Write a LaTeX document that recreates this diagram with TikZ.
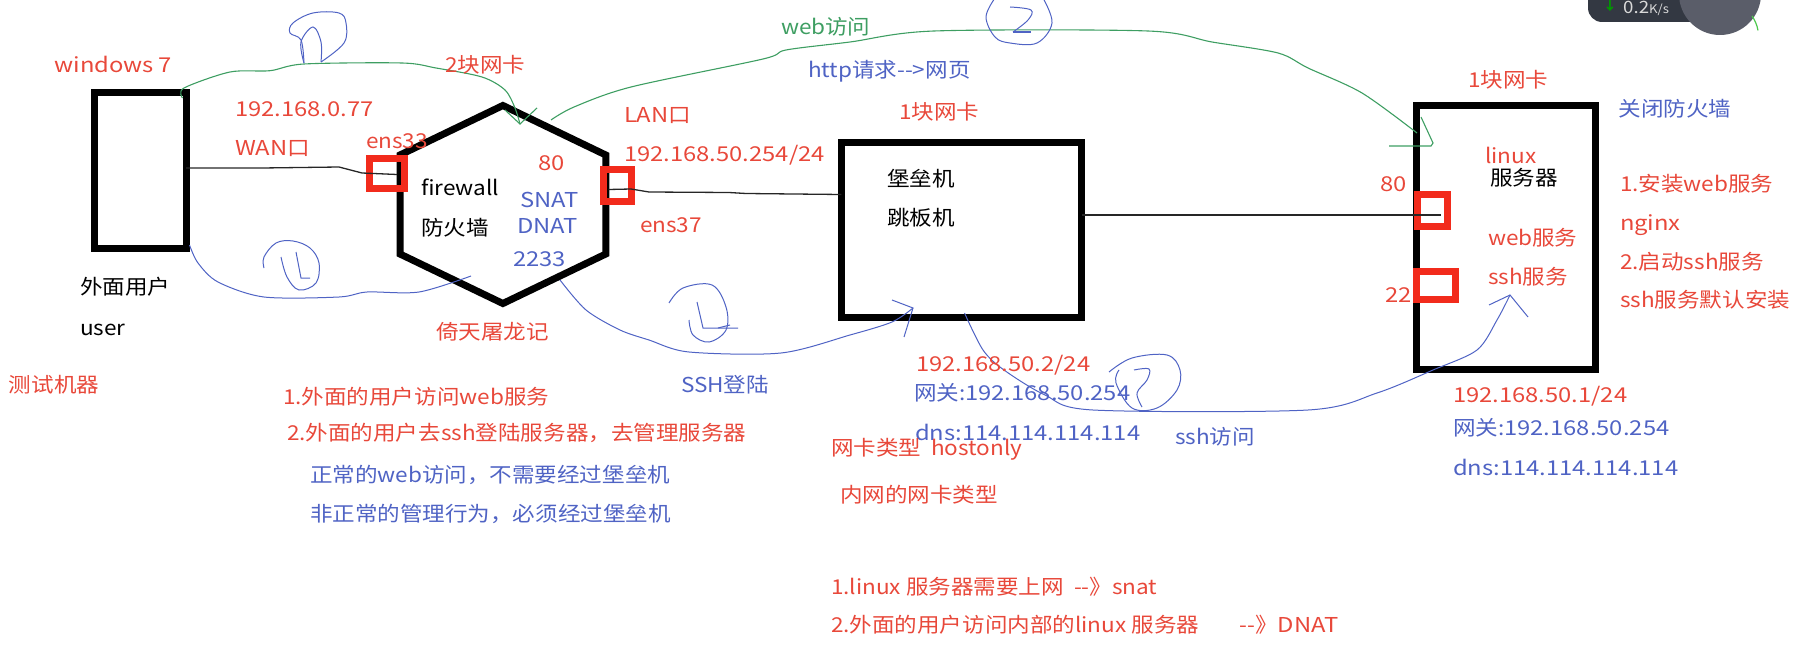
\documentclass[tikz,border=0pt]{standalone}
\usepackage{fontspec}
\setmainfont[FakeStretch=1.1]{Noto Sans CJK SC}
\newfontfamily\latfont[FakeStretch=1.16]{Noto Sans CJK SC}
\usepackage{tikz}
\usetikzlibrary{positioning, shapes, arrows.meta, calc}

\definecolor{notered}{HTML}{E8483A}
\definecolor{noteblue}{HTML}{4F63C4}
\definecolor{notegreen}{HTML}{3E9E62}
\definecolor{portred}{HTML}{F22B1C}
\definecolor{widgetdark}{HTML}{333842}
\definecolor{widgetgrey}{HTML}{5A5D69}

\tikzset{
  label base/.style={inner sep=0pt, outer sep=0pt, anchor=west, text height=19pt, text depth=4pt, font=\fontsize{20.5}{24}\selectfont},
  rednote/.style={label base, text=notered},
  bluenote/.style={label base, text=noteblue},
  greennote/.style={label base, text=notegreen},
  blacknote/.style={label base, text=black},
  latin/.style={font=\fontsize{20.5}{24}\selectfont\latfont},
  under/.style={below=#1, anchor=west},
  hostbox/.style={draw, line width=7pt, rectangle, inner sep=0pt, outer sep=0pt},
  portbox/.style={draw=portred, line width=7pt, rectangle, inner sep=0pt, outer sep=0pt},
  wire/.style={line width=1.3pt, draw=black!85},
  greenpen/.style={line width=1.1pt, draw=notegreen},
  bluepen/.style={line width=1pt, draw=noteblue}
}

\begin{document}
\begin{tikzpicture}[x=1pt, y=-1pt]
  \useasboundingbox (0,0) rectangle (1795,655);
  \clip (0,0) rectangle (1795,655);

  \fill[widgetdark, rounded corners=14pt] (1588,-30) rectangle (1710,22);
  \fill[widgetgrey] (1720,-6) circle (41pt);
  \draw[line width=1.2pt, draw=green!70!black!70] (1752,16) arc (35:10:36pt);
  \node[inner sep=0pt, text=green!60!black, font=\fontsize{13}{15}\selectfont\bfseries] (rate arrow) at (1610,6) {↓};
  \node[inner sep=0pt, anchor=west, text=white!85!black, font=\fontsize{17}{19}\selectfont] (rate) at (1623,8) {0.2\fontsize{12}{14}\selectfont K/s};

  \node[hostbox, minimum width=91.5pt, minimum height=156pt] (user) at (140.25,170.5) {};
  \node[draw, line width=7pt, regular polygon, regular polygon sides=6, shape border rotate=30, minimum size=198pt, xscale=1.2, inner sep=0pt, outer sep=0pt] (fw) [right=214pt of user, yshift=-34pt] {};
  \node[hostbox, minimum width=240.5pt, minimum height=174pt] (jump) [right=235.5pt of fw, yshift=-25.5pt] {};
  \node[hostbox, minimum width=178.5pt, minimum height=264pt] (server) [right=335pt of jump, yshift=-7.5pt] {};

  \node[portbox, minimum width=35.5pt, minimum height=29.5pt, xshift=-13.25pt, yshift=30.75pt] (wanport) at (fw.west) {};
  \node[portbox, minimum width=28.5pt, minimum height=31.5pt, xshift=11.75pt, yshift=18.75pt] (lanport) at (fw.east) {};
  \node[portbox, minimum width=29.5pt, minimum height=31.5pt, xshift=15.75pt, yshift=27.25pt] (webport) at (server.west) {};
  \node[portbox, minimum width=39pt, minimum height=28pt, xshift=19.5pt, yshift=-47.5pt] (sshport) at (server.west) {};

  \coordinate (wanend) at (397,174.5);
  \coordinate (lanstart) at (608.5,189.5);
  \coordinate (webend) at (1441,215);
  \draw[wire] (user.east |- 0,168) -- (262,168) -- (339,167) -- (362,173) -- (wanend);
  \draw[wire] (lanstart) -- (631,189) -- (649,192) -- (729,192.5) -- (746,193.5) -- (jump.west |- 0,194.5);
  \draw[wire] (jump.east |- webend) -- (webend);

  \coordinate (fwin) at (520,124);
  \coordinate (fwout) at (551,120);
  \coordinate (srvin) at (1433,143);
  \draw[greenpen] plot[smooth, tension=0.5] coordinates {(182.5,98) (184,88) (230,72) (270,70.7) (304,64) (402,63) (436,68) (482,77) (505,90) (515,108) (fwin)};
  \draw[greenpen] (505,110) -- (fwin) -- (537,108);
  \draw[greenpen] plot[smooth, tension=0.5] coordinates {(fwout) (574,107) (631,87) (763,59) (786,50) (850,42) (934,31) (1148,31) (1212,42) (1278,53) (1308,68) (1362,93) (1417,133)};
  \draw[greenpen] (1389,146) -- (1431,146) -- (srvin) -- (1421,117);

  \coordinate (fwssh) at (560,280);
  \coordinate (jumpin) at (913,308);
  \coordinate (srvssh) at (1510,295);
  \draw[bluepen] plot[smooth, tension=0.5] coordinates {(189.5,245) (198,263) (218,282) (264,297) (339,297) (367,292) (419,292) (471,276)};
  \draw[bluepen] plot[smooth, tension=0.5] coordinates {(fwssh) (586,310) (620,330) (649,340) (689,352) (781,353) (850,335) (892,322) (jumpin)};
  \draw[bluepen] (892,300) -- (jumpin) -- (904,337);
  \draw[bluepen] plot[smooth, tension=0.5] coordinates {(964.5,313) (983,350) (1004,370) (1045,395) (1093,410) (1308,410) (1377,393) (1433,370) (1477,350) (1497,320) (srvssh)};
  \draw[bluepen] (1489,305) -- (srvssh) -- (1528,317);

  \draw[bluepen] plot[smooth, tension=0.6] coordinates {(304,63) (301,40) (290,33) (293,23) (313,13) (339,13) (346,23) (344,43) (321,62)};
  \draw[bluepen] plot[smooth, tension=0.6] coordinates {(304,63) (301,42) (313,27) (321,42) (321,62)};
  \draw[bluepen] plot[smooth, tension=0.6] coordinates {(264,268) (264,257) (276,243) (293,241) (310,248) (319,263) (316,283) (299,290) (287,277) (281,257)};
  \draw[bluepen] (296,252) -- (301,278) -- (310,278);
  \draw[bluepen] plot[smooth, tension=0.6] coordinates {(995,-2) (986,17) (995,37) (1010,43) (1037,43) (1052,23) (1043,-2)};
  \draw[bluepen] plot[smooth, tension=0.6] coordinates {(1010,7) (1031,10) (1028,20) (1013,32)};
  \draw[bluepen, line width=1.6pt] (1013,32) -- (1031,32);
  \draw[bluepen] plot[smooth, tension=0.6] coordinates {(669,303) (683,288) (712,285) (726,307) (726,330) (709,342) (693,335) (689,320)};
  \draw[bluepen] (697,302) -- (703,328) -- (738,328);
  \draw[bluepen] (718,328) -- (730,325);
  \draw[bluepen] plot[smooth, tension=0.6] coordinates {(1109,372) (1132,358) (1167,355) (1180,370) (1177,390) (1157,408) (1132,408) (1116,383) (1119,370)};
  \draw[bluepen] plot[smooth, tension=0.6] coordinates {(1134,370) (1149,369) (1147,380) (1137,393) (1142,407)};

  \node[rednote, latin] (win) at (54.5,65) {windows\hspace{0.25em}7};
  \node[rednote, latin] (wanip) at (235,109) {192.168.0.77};
  \node[rednote] (wan) [under=39pt of wanip.west] {{\latfont WAN}口};
  \node[rednote] (ens33) at (366,141) {ens33};
  \node[rednote] (fwcards) at (445,65) {2块网卡};
  \node[greennote] (webvisit) at (781,27) {web访问};
  \node[bluenote] (httpreq) [under=43pt of webvisit.west, xshift=27pt] {http请求-{}->网页};
  \node[rednote] (lan) at (624,115) {{\latfont LAN}口};
  \node[rednote, latin] (lanip) [under=39pt of lan.west] {192.168.50.254/24};
  \node[rednote] (ens37) at (640,225) {ens37};
  \node[rednote, latin] (fwweb) at (538,163) {80};
  \node[blacknote] (fwname) at (421,188) {firewall};
  \node[blacknote] (fwcn) [under=40pt of fwname.west] {防火墙};
  \node[bluenote, latin] (snat) at (520,200) {SNAT};
  \node[bluenote, latin] (dnat) [under=26pt of snat.west, xshift=-3pt] {DNAT};
  \node[bluenote, latin] (fwssh port) [under=33pt of dnat.west, xshift=-4pt] {2233};
  \node[rednote] (fwbook) at (436,332) {倚天屠龙记};
  \node[blacknote] (usercn) at (80,287) {外面用户};
  \node[blacknote] (username) [under=41pt of usercn.west] {user};
  \node[rednote] (testbox) at (9,385) {测试机器};
  \node[bluenote] (sshlogin) at (681,385) {SSH登陆};

  \node[rednote] (goal a) at (283,397) {1.外面的用户访问web服务};
  \node[rednote] (goal b) [under=36pt of goal a.west, xshift=4pt] {2.外面的用户去ssh登陆服务器，去管理服务器};
  \node[bluenote] (rule a) [under=42pt of goal b.west, xshift=23pt] {正常的web访问，不需要经过堡垒机};
  \node[bluenote] (rule b) [under=39pt of rule a.west] {非正常的管理行为，必须经过堡垒机};

  \node[rednote] (jumpcards) at (899,112) {1块网卡};
  \node[blacknote] (jumpa) at (887,179) {堡垒机};
  \node[blacknote] (jumpb) [under=39pt of jumpa.west] {跳板机};
  \node[rednote, latin] (jumpip) at (916,364) {192.168.50.2/24};
  \node[bluenote] (jumpgw) [under=29pt of jumpip.west, xshift=-2pt] {网关:{\latfont 192.168.50.254}};
  \node[bluenote, latin] (jumpdns) [under=40pt of jumpgw.west, xshift=1pt] {dns:114.114.114.114};
  \node[rednote] (cardtype) at (831,448) {网卡类型~~hostonly};
  \node[rednote] (cardlan) [under=47pt of cardtype.west, xshift=9pt] {内网的网卡类型};
  \node[bluenote] (sshvisit) at (1175,437) {ssh访问};
  \node[rednote] (nat a) at (831,587) {1.linux 服务器需要上网~~-{}-》snat};
  \node[rednote] (nat b) [under=38pt of nat a.west] {2.外面的用户访问内部的linux 服务器~~~~~~~~-{}-》{\latfont DNAT}};

  \node[rednote] (srvcards) at (1468,80) {1块网卡};
  \node[bluenote] (srvoff) at (1618.5,109) {关闭防火墙};
  \node[rednote] (srvos) at (1485,156) {linux};
  \node[blacknote] (srvname) at (1490,178) {服务器};
  \node[rednote] (srvweb) at (1488,238) {web服务};
  \node[rednote] (srvssh label) [under=39pt of srvweb.west] {ssh服务};
  \node[rednote, latin] (port80) at (1380,184) {80};
  \node[rednote, latin] (port22) at (1385,295) {22};
  \node[rednote] (step a) at (1620,184) {1.安装web服务};
  \node[rednote, latin] (step b) [under=39pt of step a.west] {nginx};
  \node[rednote] (step c) [under=39pt of step b.west] {2.启动ssh服务};
  \node[rednote] (step d) [under=38pt of step c.west] {ssh服务默认安装};
  \node[rednote, latin] (srvip) at (1453,395) {192.168.50.1/24};
  \node[bluenote] (srvgw) [under=33pt of srvip.west] {网关:{\latfont 192.168.50.254}};
  \node[bluenote, latin] (srvdns) [under=40pt of srvgw.west] {dns:114.114.114.114};
\end{tikzpicture}
\end{document}
